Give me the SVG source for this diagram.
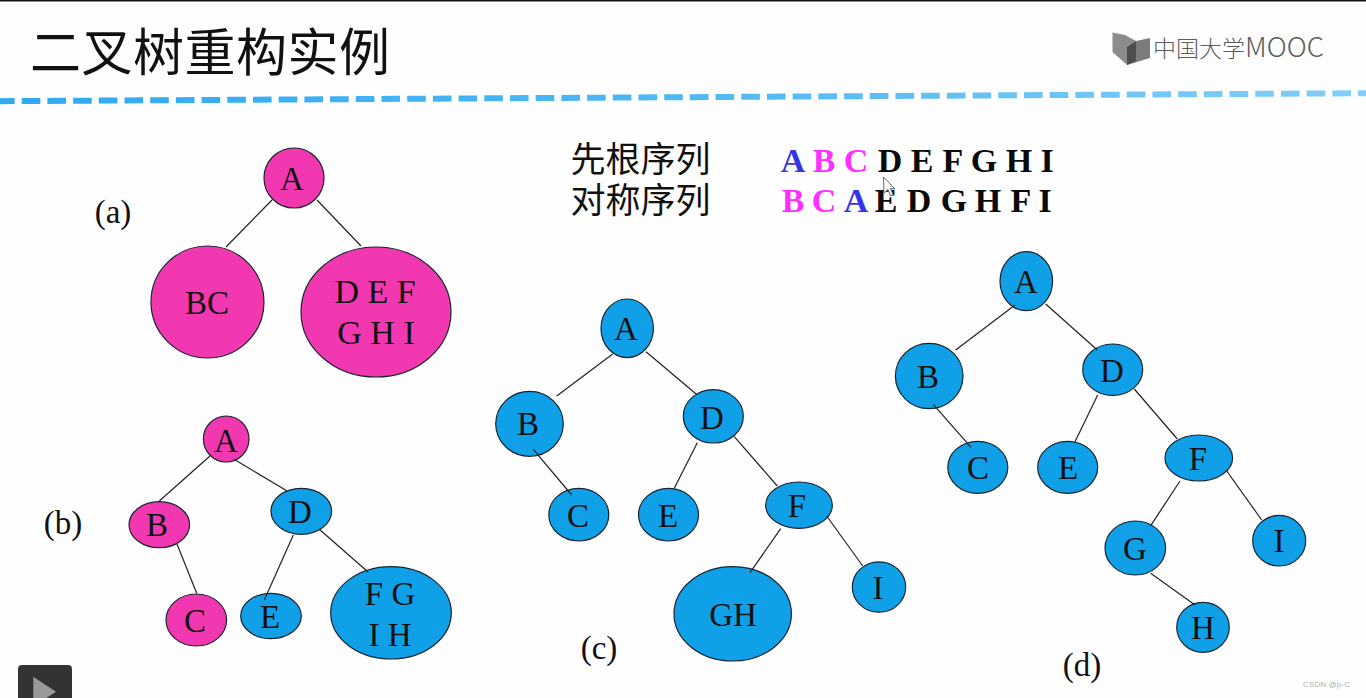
<svg xmlns="http://www.w3.org/2000/svg" width="1366" height="698" viewBox="0 0 1366 698">
<style>
.n{stroke:#1a2430;stroke-width:1.2}
.p{fill:#f238b0}
.b{fill:#0fa0e8}
.t{font-family:"Liberation Serif",serif;font-size:33px;fill:#111;text-anchor:middle}
.s{font-family:"Liberation Serif",serif;font-size:34px;font-weight:bold;text-anchor:middle;fill:#0a0a0a}
.cj{font-family:"Liberation Sans","Noto Sans CJK SC",sans-serif;fill:#111}
#connectors line{stroke:#222;stroke-width:1.2}
</style>
<defs>
<linearGradient id="dash" gradientUnits="userSpaceOnUse" x1="0" y1="0" x2="1366" y2="0">
<stop offset="0" stop-color="#2ea9f2"/><stop offset=".5" stop-color="#4fb8f4"/><stop offset="1" stop-color="#82cef8"/>
</linearGradient>
</defs>
<rect width="1366" height="698" fill="#fefefe"/>
<rect width="1366" height="1.5" fill="#111"/>
<text class="cj" x="30" y="71" font-size="51" textLength="360">二叉树重构实例</text>
<path d="M0 101.2L1366 93.2" fill="none" stroke="url(#dash)" stroke-width="6" stroke-dasharray="18.6 7.1" stroke-dashoffset="4"/>
<g id="logo">
<polygon points="1112.500,32.500 1125,35 1136,41 1127,46 1127,65 1112.500,52" fill="#8c8c8c"/>
<polygon points="1136,41 1150,38 1150,58 1127,65 1127,46" fill="#7c7c7c"/>
<polygon points="1127,47 1136,41 1136,61 1127,65" fill="#4e4e4e"/>
<text y="57" font-family="'Noto Sans CJK SC',sans-serif" font-weight="300" fill="#5c5c5c"><tspan x="1153" font-size="23">中国大学</tspan><tspan x="1245" font-size="27" textLength="79" lengthAdjust="spacingAndGlyphs">MOOC</tspan></text>
</g>
<g id="seq">
<text class="cj" font-size="35"><tspan x="570.500" y="172">先根序列</tspan><tspan x="570.500" y="213">对称序列</tspan></text>
<text class="s" x="793" y="172" style="fill:#3535e8">A</text><text class="s" x="824" y="172" style="fill:#ff30ff">B</text><text class="s" x="856" y="172" style="fill:#ff30ff">C</text>
<text class="s" x="890" y="172">D</text><text class="s" x="922" y="172">E</text><text class="s" x="953" y="172">F</text><text class="s" x="984" y="172">G</text><text class="s" x="1019" y="172">H</text><text class="s" x="1047" y="172">I</text>
<text class="s" x="793" y="212" style="fill:#ff30ff">B</text><text class="s" x="824" y="212" style="fill:#ff30ff">C</text><text class="s" x="856" y="212" style="fill:#3535e8">A</text>
<text class="s" x="886" y="212">E</text><text class="s" x="919" y="212">D</text><text class="s" x="954" y="212">G</text><text class="s" x="988" y="212">H</text><text class="s" x="1021" y="212">F</text><text class="s" x="1045" y="212">I</text>
<polygon points="883.500,177 884,193 888,189.500 890.500,196 893,195 890.500,188.500 895,189" fill="#fff" stroke="#666" stroke-width="1"/>
</g>
<g id="label-a"><text class="t" x="113" y="223">(a)</text></g>
<g id="label-b"><text class="t" x="63" y="534">(b)</text></g>
<g id="label-c"><text class="t" x="599" y="659">(c)</text></g>
<g id="label-d"><text class="t" x="1082" y="676">(d)</text></g>
<g id="a-A"><ellipse class="n p" cx="294" cy="178" rx="30" ry="30"/><text class="t" x="292" y="190">A</text></g>
<g id="a-BC"><ellipse class="n p" cx="207.500" cy="302" rx="56.500" ry="56"/><text class="t" x="207" y="314">BC</text></g>
<g id="a-DEF"><ellipse class="n p" cx="376" cy="312" rx="75" ry="65"/><text class="t" x="375" y="303" style="font-size:34px">D E F</text><text class="t" x="376" y="344" style="font-size:34px">G H I</text></g>
<g id="b-A"><ellipse class="n p" cx="226.200" cy="439" rx="22.800" ry="23"/><text class="t" x="226" y="451.500">A</text></g>
<g id="b-B"><ellipse class="n p" cx="159.300" cy="524.700" rx="30.300" ry="23"/><text class="t" x="157" y="536">B</text></g>
<g id="b-C"><ellipse class="n p" cx="196.300" cy="620" rx="30.300" ry="26"/><text class="t" x="195" y="631.500">C</text></g>
<g id="b-D"><ellipse class="n b" cx="301.300" cy="511.300" rx="30.300" ry="23"/><text class="t" x="300" y="523">D</text></g>
<g id="b-E"><ellipse class="n b" cx="271" cy="616" rx="30.300" ry="22.700"/><text class="t" x="270" y="628">E</text></g>
<g id="b-FG"><ellipse class="n b" cx="391" cy="612.800" rx="60.300" ry="46.200"/><text class="t" x="390" y="604.500">F G</text><text class="t" x="390" y="645.500">I H</text></g>
<g id="c-A"><ellipse class="n b" cx="627.200" cy="328.300" rx="26.200" ry="29.300"/><text class="t" x="626" y="340">A</text></g>
<g id="c-B"><ellipse class="n b" cx="529.500" cy="423.800" rx="33.800" ry="32.500"/><text class="t" x="528" y="435">B</text></g>
<g id="c-C"><ellipse class="n b" cx="578.800" cy="514.700" rx="30" ry="26.300"/><text class="t" x="578" y="526.500">C</text></g>
<g id="c-D"><ellipse class="n b" cx="713.300" cy="416.300" rx="30" ry="26.700"/><text class="t" x="712" y="429">D</text></g>
<g id="c-E"><ellipse class="n b" cx="668.500" cy="514.700" rx="30" ry="26.300"/><text class="t" x="668" y="526.500">E</text></g>
<g id="c-F"><ellipse class="n b" cx="799" cy="505.200" rx="33.300" ry="23.200"/><text class="t" x="797" y="517.300">F</text></g>
<g id="c-GH"><ellipse class="n b" cx="732.700" cy="613.800" rx="58.700" ry="47.200"/><text class="t" x="733" y="625.500">GH</text></g>
<g id="c-I"><ellipse class="n b" cx="879" cy="587" rx="26.700" ry="25.200"/><text class="t" x="878" y="599.300">I</text></g>
<g id="d-A"><ellipse class="n b" cx="1026.300" cy="281.200" rx="26.300" ry="29.500"/><text class="t" x="1026" y="292.700">A</text></g>
<g id="d-B"><ellipse class="n b" cx="929.200" cy="376" rx="33.800" ry="32.700"/><text class="t" x="928" y="388.300">B</text></g>
<g id="d-C"><ellipse class="n b" cx="977.800" cy="467.300" rx="30" ry="26"/><text class="t" x="978" y="479">C</text></g>
<g id="d-D"><ellipse class="n b" cx="1112.700" cy="369.700" rx="30" ry="25.700"/><text class="t" x="1112" y="381.700">D</text></g>
<g id="d-E"><ellipse class="n b" cx="1067.700" cy="467.300" rx="30" ry="26"/><text class="t" x="1068" y="479">E</text></g>
<g id="d-F"><ellipse class="n b" cx="1198.800" cy="458" rx="33.800" ry="23"/><text class="t" x="1198" y="470">F</text></g>
<g id="d-G"><ellipse class="n b" cx="1135.300" cy="548" rx="30.300" ry="27"/><text class="t" x="1135" y="559.500">G</text></g>
<g id="d-I"><ellipse class="n b" cx="1279.200" cy="540.700" rx="26.500" ry="25.300"/><text class="t" x="1279" y="552.300">I</text></g>
<g id="d-H"><ellipse class="n b" cx="1203" cy="627.300" rx="26.300" ry="25"/><text class="t" x="1203" y="639">H</text></g>
<g id="connectors">
<line x1="272" y1="200" x2="226" y2="247"/><line x1="317" y1="200" x2="361" y2="246"/>
<line x1="210" y1="456" x2="159.300" y2="501"/><line x1="234" y1="459.300" x2="286.700" y2="490.700"/><line x1="176.700" y1="543.300" x2="196.700" y2="593.300"/><line x1="293.300" y1="535" x2="264.300" y2="600"/><line x1="319.300" y1="529.300" x2="368.300" y2="572.300"/>
<line x1="612.700" y1="354" x2="556.700" y2="396"/><line x1="646" y1="351.700" x2="697.300" y2="395"/><line x1="533.300" y1="449.300" x2="571.700" y2="495"/><line x1="697.300" y1="442.700" x2="674.300" y2="488.300"/><line x1="734.300" y1="436.700" x2="777.300" y2="486"/><line x1="780.700" y1="528.700" x2="750" y2="572.700"/><line x1="826.700" y1="516" x2="862.700" y2="566"/>
<line x1="1015" y1="305" x2="955.700" y2="350"/><line x1="1045.700" y1="304" x2="1097.300" y2="350"/><line x1="933.300" y1="404.300" x2="971" y2="447.300"/><line x1="1097.700" y1="395" x2="1075" y2="441.700"/><line x1="1134.300" y1="389" x2="1177.300" y2="439"/><line x1="1180" y1="481" x2="1150.700" y2="525.700"/><line x1="1226" y1="470" x2="1261.700" y2="520"/><line x1="1150.700" y1="573.300" x2="1195" y2="605"/>
</g>
<g id="player"><rect x="18" y="665" width="54" height="40" rx="4" fill="#333"/><polygon points="33.300,676.700 56,691.700 33.300,706.700" fill="#999"/></g>
<text x="1303" y="687" font-family="'Liberation Sans',sans-serif" font-size="8" textLength="47" fill="#b0b0b0">CSDN @p-C</text>
</svg>
